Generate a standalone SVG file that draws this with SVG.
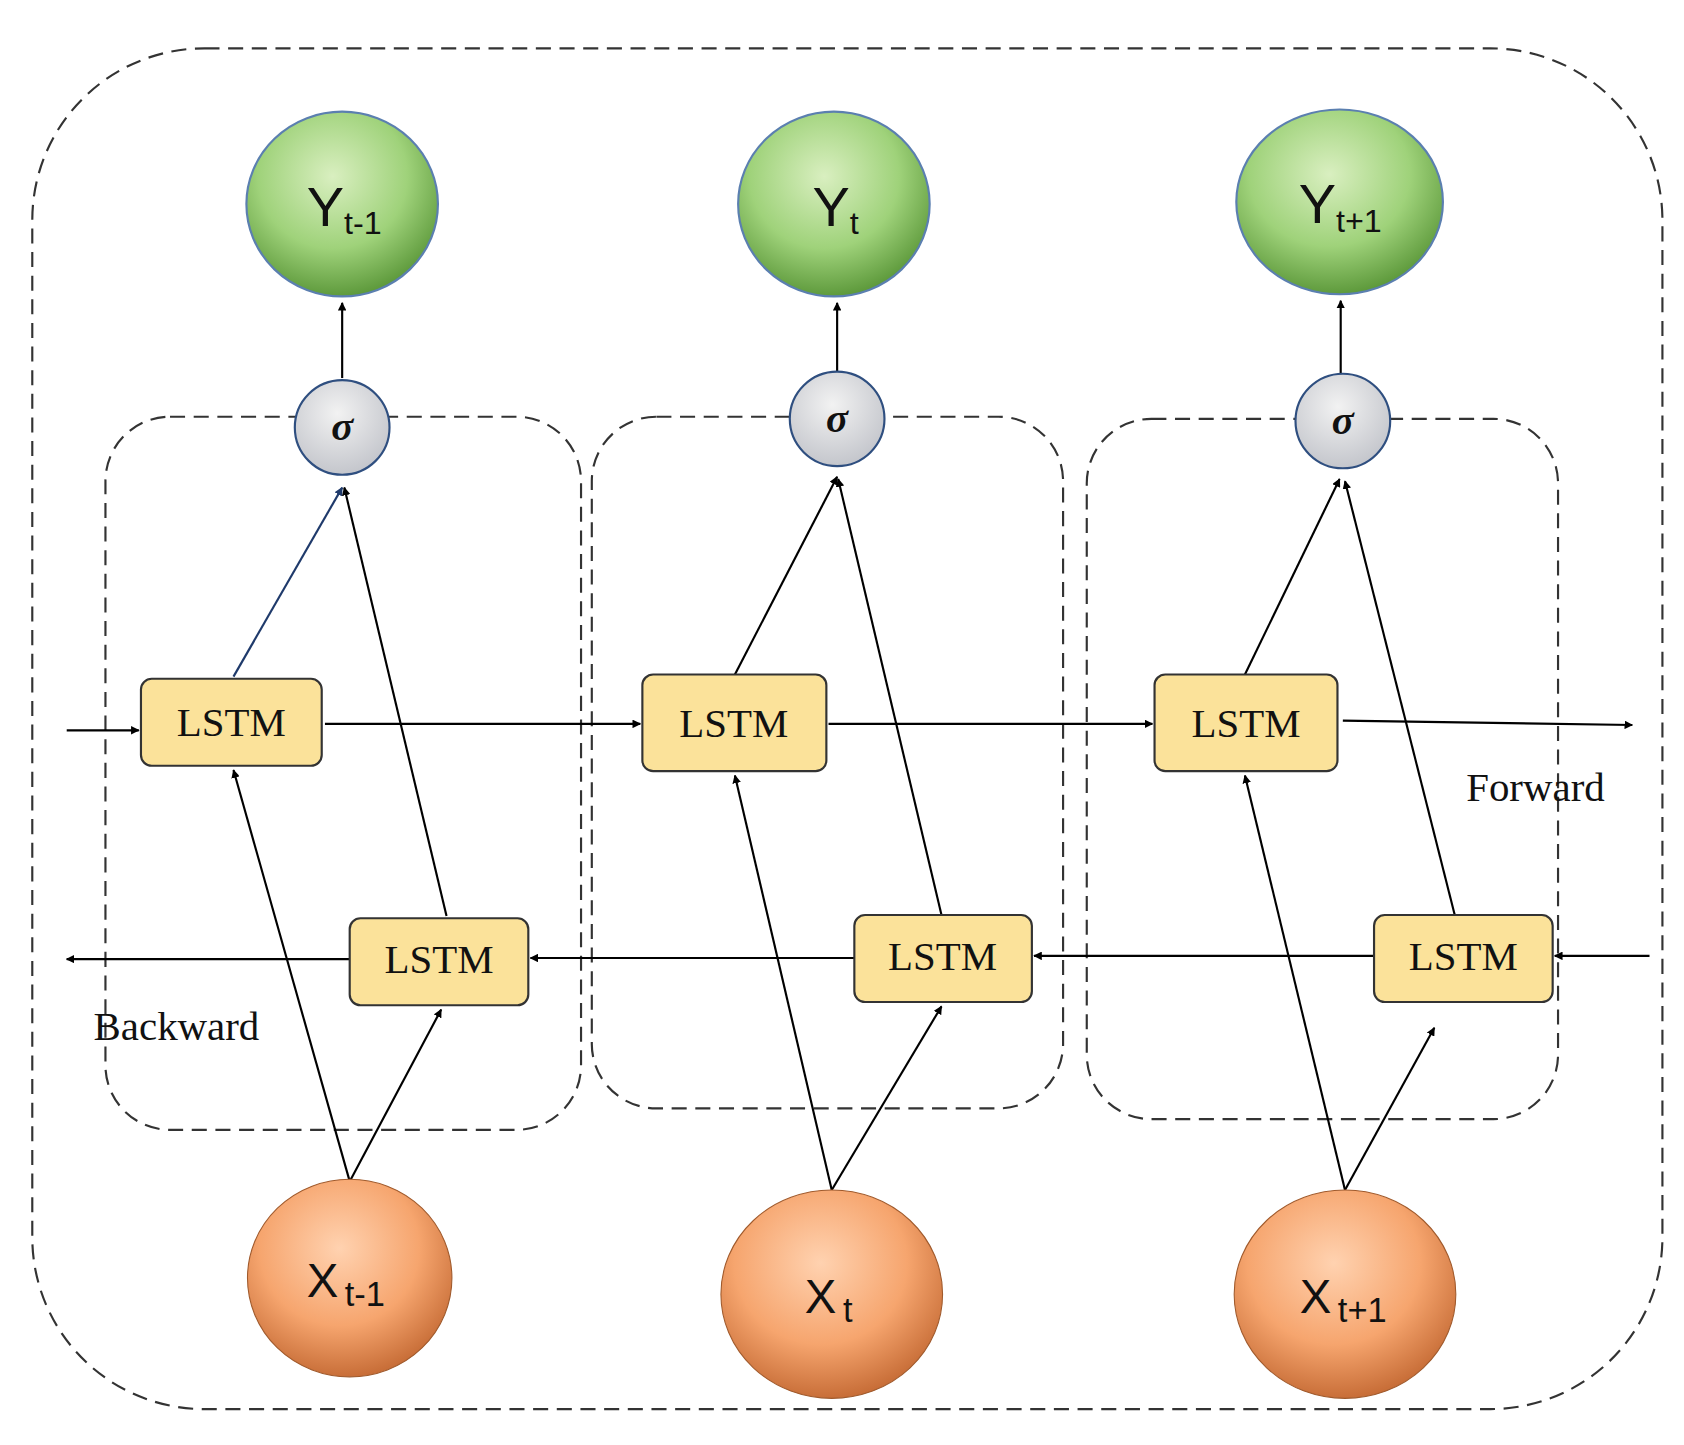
<svg xmlns="http://www.w3.org/2000/svg" width="1684" height="1445" viewBox="0 0 1684 1445">
<defs>
<radialGradient id="gy" cx="45%" cy="35%" r="65%"><stop offset="0" stop-color="#d9efc0"/><stop offset="0.6" stop-color="#9fd27a"/><stop offset="1" stop-color="#5e9a3c"/></radialGradient>
<radialGradient id="gx" cx="45%" cy="35%" r="65%"><stop offset="0" stop-color="#ffd2b0"/><stop offset="0.6" stop-color="#f6a56e"/><stop offset="1" stop-color="#c86e38"/></radialGradient>
<radialGradient id="gs" cx="45%" cy="35%" r="65%"><stop offset="0" stop-color="#f2f2f2"/><stop offset="1" stop-color="#c4c6cc"/></radialGradient>
<marker id="ar" viewBox="0 0 10 10" refX="9" refY="5" markerWidth="8" markerHeight="8" orient="auto" markerUnits="userSpaceOnUse"><path d="M0,0 L10,5 L0,10 z" fill="#000"/></marker>
<marker id="arb" viewBox="0 0 10 10" refX="9" refY="5" markerWidth="8" markerHeight="8" orient="auto" markerUnits="userSpaceOnUse"><path d="M0,0 L10,5 L0,10 z" fill="#1f3a6b"/></marker>
</defs>
<style>
.d{fill:none;stroke:#333;stroke-width:2;stroke-dasharray:14 8}
.l{fill:#fbe29a;stroke:#333;stroke-width:2}
.c line{stroke:#000;stroke-width:2;marker-end:url(#ar)}
.t{font-family:"Liberation Serif",serif;font-size:38px;fill:#111;text-anchor:middle}
.s{font-family:"Liberation Sans",sans-serif;fill:#111}
</style>
<rect width="1684" height="1445" fill="#fff"/>
<g transform="scale(1.076,1.074)">
<rect class="d" x="30" y="45" width="1515" height="1267" rx="160"/>
<g id="boxes">
<rect class="d" x="98" y="388" width="442" height="664" rx="60"/>
<rect class="d" x="550" y="388" width="438" height="644" rx="60"/>
<rect class="d" x="1010" y="390" width="438" height="652" rx="60"/>
</g>
<g class="c" id="connectors">
<line x1="318" y1="352" x2="318" y2="282"/>
<line x1="778" y1="346" x2="778" y2="282"/>
<line x1="1246" y1="348" x2="1246" y2="280"/>
<line x1="217" y1="630" x2="318" y2="454" style="stroke:#1f3a6b;marker-end:url(#arb)"/>
<line x1="415" y1="853" x2="320" y2="454"/>
<line x1="683" y1="628" x2="778" y2="444"/>
<line x1="875" y1="852" x2="779" y2="446"/>
<line x1="1157" y1="628" x2="1245" y2="446"/>
<line x1="1352" y1="852" x2="1250" y2="448"/>
<line x1="62" y1="680" x2="129" y2="680"/>
<line x1="302" y1="674" x2="595" y2="674"/>
<line x1="770" y1="674" x2="1071" y2="674"/>
<line x1="1248" y1="671" x2="1517" y2="675"/>
<line x1="1533" y1="890" x2="1445" y2="890"/>
<line x1="1277" y1="890" x2="961" y2="890"/>
<line x1="794" y1="892" x2="493" y2="892"/>
<line x1="325" y1="893" x2="62" y2="893"/>
<line x1="325" y1="1100" x2="217" y2="717"/>
<line x1="325" y1="1100" x2="410" y2="940"/>
<line x1="773" y1="1108" x2="683" y2="722"/>
<line x1="773" y1="1108" x2="875" y2="937"/>
<line x1="1250" y1="1108" x2="1157" y2="722"/>
<line x1="1250" y1="1108" x2="1333" y2="957"/>
</g>
<g id="Y1"><ellipse cx="318" cy="190" rx="89" ry="86" fill="url(#gy)" stroke="#5b7fb0" stroke-width="2"/><text class="s" x="285" y="210" font-size="52">Y<tspan font-size="30" dy="8">t-1</tspan></text></g>
<g id="Y2"><ellipse cx="775" cy="190" rx="89" ry="86" fill="url(#gy)" stroke="#5b7fb0" stroke-width="2"/><text class="s" x="755" y="210" font-size="52">Y<tspan font-size="30" dy="8">t</tspan></text></g>
<g id="Y3"><ellipse cx="1245" cy="188" rx="96" ry="86" fill="url(#gy)" stroke="#5b7fb0" stroke-width="2"/><text class="s" x="1207" y="208" font-size="52">Y<tspan font-size="30" dy="8">t+1</tspan></text></g>
<g id="S1"><circle cx="318" cy="398" r="44" fill="url(#gs)" stroke="#2f4f80" stroke-width="2"/><text class="t" x="318" y="410" font-style="italic" font-weight="bold" font-size="34">σ</text></g>
<g id="S2"><circle cx="778" cy="390" r="44" fill="url(#gs)" stroke="#2f4f80" stroke-width="2"/><text class="t" x="778" y="402" font-style="italic" font-weight="bold" font-size="34">σ</text></g>
<g id="S3"><circle cx="1248" cy="392" r="44" fill="url(#gs)" stroke="#2f4f80" stroke-width="2"/><text class="t" x="1248" y="404" font-style="italic" font-weight="bold" font-size="34">σ</text></g>
<g id="F1"><rect class="l" x="131" y="632" width="168" height="81" rx="10"/><text class="t" x="215" y="685">LSTM</text></g>
<g id="F2"><rect class="l" x="597" y="628" width="171" height="90" rx="10"/><text class="t" x="682" y="686">LSTM</text></g>
<g id="F3"><rect class="l" x="1073" y="628" width="170" height="90" rx="10"/><text class="t" x="1158" y="686">LSTM</text></g>
<g id="B1"><rect class="l" x="325" y="855" width="166" height="81" rx="10"/><text class="t" x="408" y="906">LSTM</text></g>
<g id="B2"><rect class="l" x="794" y="852" width="165" height="81" rx="10"/><text class="t" x="876" y="903">LSTM</text></g>
<g id="B3"><rect class="l" x="1277" y="852" width="166" height="81" rx="10"/><text class="t" x="1360" y="903">LSTM</text></g>
<g id="X1"><ellipse cx="325" cy="1190" rx="95" ry="92" fill="url(#gx)" stroke="#a05a2c" stroke-width="1"/><text class="s" x="285" y="1208" font-size="44">X<tspan font-size="32" dx="6" dy="8">t-1</tspan></text></g>
<g id="X2"><ellipse cx="773" cy="1205" rx="103" ry="97" fill="url(#gx)" stroke="#a05a2c" stroke-width="1"/><text class="s" x="748" y="1223" font-size="44">X<tspan font-size="32" dx="6" dy="8">t</tspan></text></g>
<g id="X3"><ellipse cx="1250" cy="1205" rx="103" ry="97" fill="url(#gx)" stroke="#a05a2c" stroke-width="1"/><text class="s" x="1208" y="1223" font-size="44">X<tspan font-size="32" dx="6" dy="8">t+1</tspan></text></g>
<text class="t" x="1427" y="746" font-size="44">Forward</text>
<text class="t" x="164" y="968" font-size="44">Backward</text>
</g>
</svg>
